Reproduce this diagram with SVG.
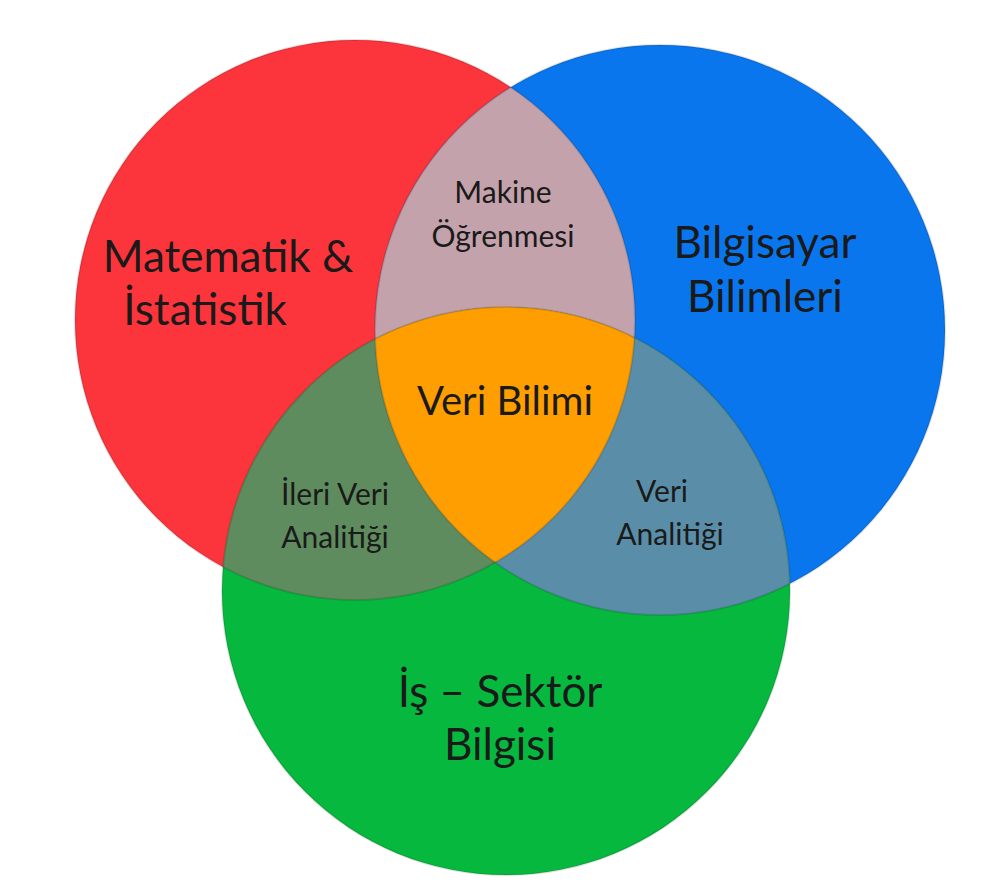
<svg xmlns="http://www.w3.org/2000/svg" width="998" height="892" viewBox="0 0 998 892">
<style>
text{font-family:Lato,"Noto Sans","Liberation Sans",sans-serif;fill:#1a1a1a;text-anchor:middle}
.big{font-size:44px}.mid{font-size:30px}.ctr{font-size:40px}
.edge{fill:none;stroke:#000;stroke-opacity:0.12;stroke-width:2}
</style>
<defs>
<circle id="cR" cx="355" cy="320" r="280"/>
<circle id="cB" cx="660" cy="330" r="285"/>
<circle id="cG" cx="506" cy="591" r="284"/>
<clipPath id="kR"><use href="#cR"/></clipPath>
<clipPath id="kB"><use href="#cB"/></clipPath>
<clipPath id="kG"><use href="#cG"/></clipPath>
</defs>
<rect width="998" height="892" fill="#fff"/>
<g id="red"><use href="#cR" fill="#FC343B"/></g>
<g id="blue"><use href="#cB" fill="#0A76EE"/></g>
<g id="green"><use href="#cG" fill="#07B83F"/></g>
<g id="makine" clip-path="url(#kR)"><use href="#cB" fill="#C4A2AB"/></g>
<g id="ileri" clip-path="url(#kR)"><use href="#cG" fill="#5F8C5E"/></g>
<g id="analitik" clip-path="url(#kB)"><use href="#cG" fill="#5A8EA8"/></g>
<g id="veribilimi" clip-path="url(#kR)"><g clip-path="url(#kB)"><use href="#cG" fill="#FF9E00"/></g></g>
<g id="edges"><use href="#cR" class="edge"/><use href="#cB" class="edge"/><use href="#cG" class="edge"/></g>
<g id="labels">
<text class="big" x="228" y="272">Matematik &amp;</text>
<text class="big" x="205" y="325">İstatistik</text>
<text class="big" x="765" y="258">Bilgisayar</text>
<text class="big" x="765" y="312">Bilimleri</text>
<text class="mid" x="503" y="203">Makine</text>
<text class="mid" x="503" y="247">Öğrenmesi</text>
<text class="ctr" x="505" y="415">Veri Bilimi</text>
<text class="mid" x="335" y="505">İleri Veri</text>
<text class="mid" x="335" y="548">Analitiği</text>
<text class="mid" x="662" y="502">Veri</text>
<text class="mid" x="670" y="545">Analitiği</text>
<text class="big" x="500" y="707">İş – Sektör</text>
<text class="big" x="500" y="760">Bilgisi</text>
</g>
</svg>
